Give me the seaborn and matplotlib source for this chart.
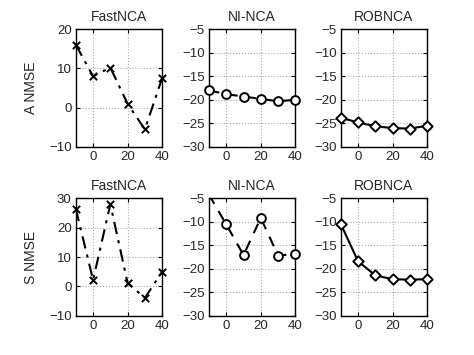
import matplotlib
matplotlib.use("Agg")
import matplotlib.pyplot as plt
import seaborn as sns
import pandas as pd

# SNR values on the x axis
snr = [-10, 0, 10, 20, 30, 40]

methods = ["FastNCA", "NI-NCA", "ROBNCA"]

# A NMSE (top row)
a_fastnca = [16.0, 8.0, 10.2, 1.0, -5.5, 7.5]
a_ninca = [-18.0, -18.8, -19.3, -19.8, -20.3, -20.0]
a_robnca = [-23.8, -24.8, -25.6, -26.0, -26.1, -25.5]

# S NMSE (bottom row)
s_fastnca = [26.3, 2.2, 27.9, 1.2, -3.9, 5.0]
s_ninca = [-4.3, -10.6, -17.1, -9.2, -17.2, -16.8]
s_robnca = [-10.5, -18.4, -21.4, -22.2, -22.3, -22.2]

ylabels = ["A NMSE", "S NMSE"]
ylims = [[(-10, 20), (-30, -5), (-30, -5)],
         [(-10, 30), (-30, -5), (-30, -5)]]
yticks = [[[-10, 0, 10, 20], list(range(-30, 0, 5)), list(range(-30, 0, 5))],
          [[-10, 0, 10, 20, 30], list(range(-30, 0, 5)), list(range(-30, 0, 5))]]

STYLES = {
    "FastNCA": dict(marker="x", linestyle=(0, (6, 3, 1.5, 3)), face="black", size=28),
    "NI-NCA": dict(marker="o", linestyle=(0, (5, 4)), face="white", size=40),
    "ROBNCA": dict(marker="D", linestyle="-", face="white", size=28),
}

sns.set_style("white")
plt.rcParams["font.family"] = ["Liberation Sans", "DejaVu Sans"]
plt.rcParams["axes.unicode_minus"] = True

fig = plt.figure(figsize=(4.74, 3.55), dpi=100)

lefts = [0.160, 0.441, 0.719]
bottoms = [0.586, 0.110]
width, height = 0.182, 0.332

rows = [[a_fastnca, a_ninca, a_robnca], [s_fastnca, s_ninca, s_robnca]]

for r, row in enumerate(rows):
    for c, vals in enumerate(row):
        name = methods[c]
        lo, hi = ylims[r][c]
        ax = fig.add_axes([lefts[c], bottoms[r], width, height])
        df = pd.DataFrame({"snr": snr, "nmse": vals})
        st = STYLES[name]
        sns.lineplot(data=df, x="snr", y="nmse", ax=ax, color="black",
                     linewidth=1.5, linestyle=st["linestyle"])
        # markers are not clipped at the frame, except points outside the range
        inside = df[(df.nmse >= lo) & (df.nmse <= hi)]
        sns.scatterplot(data=inside, x="snr", y="nmse", ax=ax, marker=st["marker"],
                        s=st["size"], color=st["face"], edgecolor="black",
                        linewidth=1.4, zorder=5)
        for coll in ax.collections:
            coll.set_clip_on(False)
        if st["marker"] == "x":
            ax.collections[-1].set_edgecolor("black")
            ax.collections[-1].set_facecolor("black")
        ax.set_xlim(-10, 40)
        ax.set_ylim(lo, hi)
        ax.set_xticks([0, 20, 40])
        ax.set_yticks(yticks[r][c])
        ax.set_yticklabels([str(t).replace("-", "\u2212") for t in yticks[r][c]])
        ax.grid(True, linestyle=":", color="#aaaaaa", linewidth=0.8)
        ax.tick_params(direction="in", labelsize=9.5, length=3, color="black",
                       left=True, bottom=True, top=True, right=True, pad=3)
        for sp in ax.spines.values():
            sp.set_color("black")
            sp.set_linewidth(1.0)
        ax.set_title(name, fontsize=10, pad=6)
        ax.set_xlabel("")
        if c == 0:
            ax.set_ylabel(ylabels[r], fontsize=10, labelpad=8)
        else:
            ax.set_ylabel("")

fig.savefig("out.png", dpi=100)
